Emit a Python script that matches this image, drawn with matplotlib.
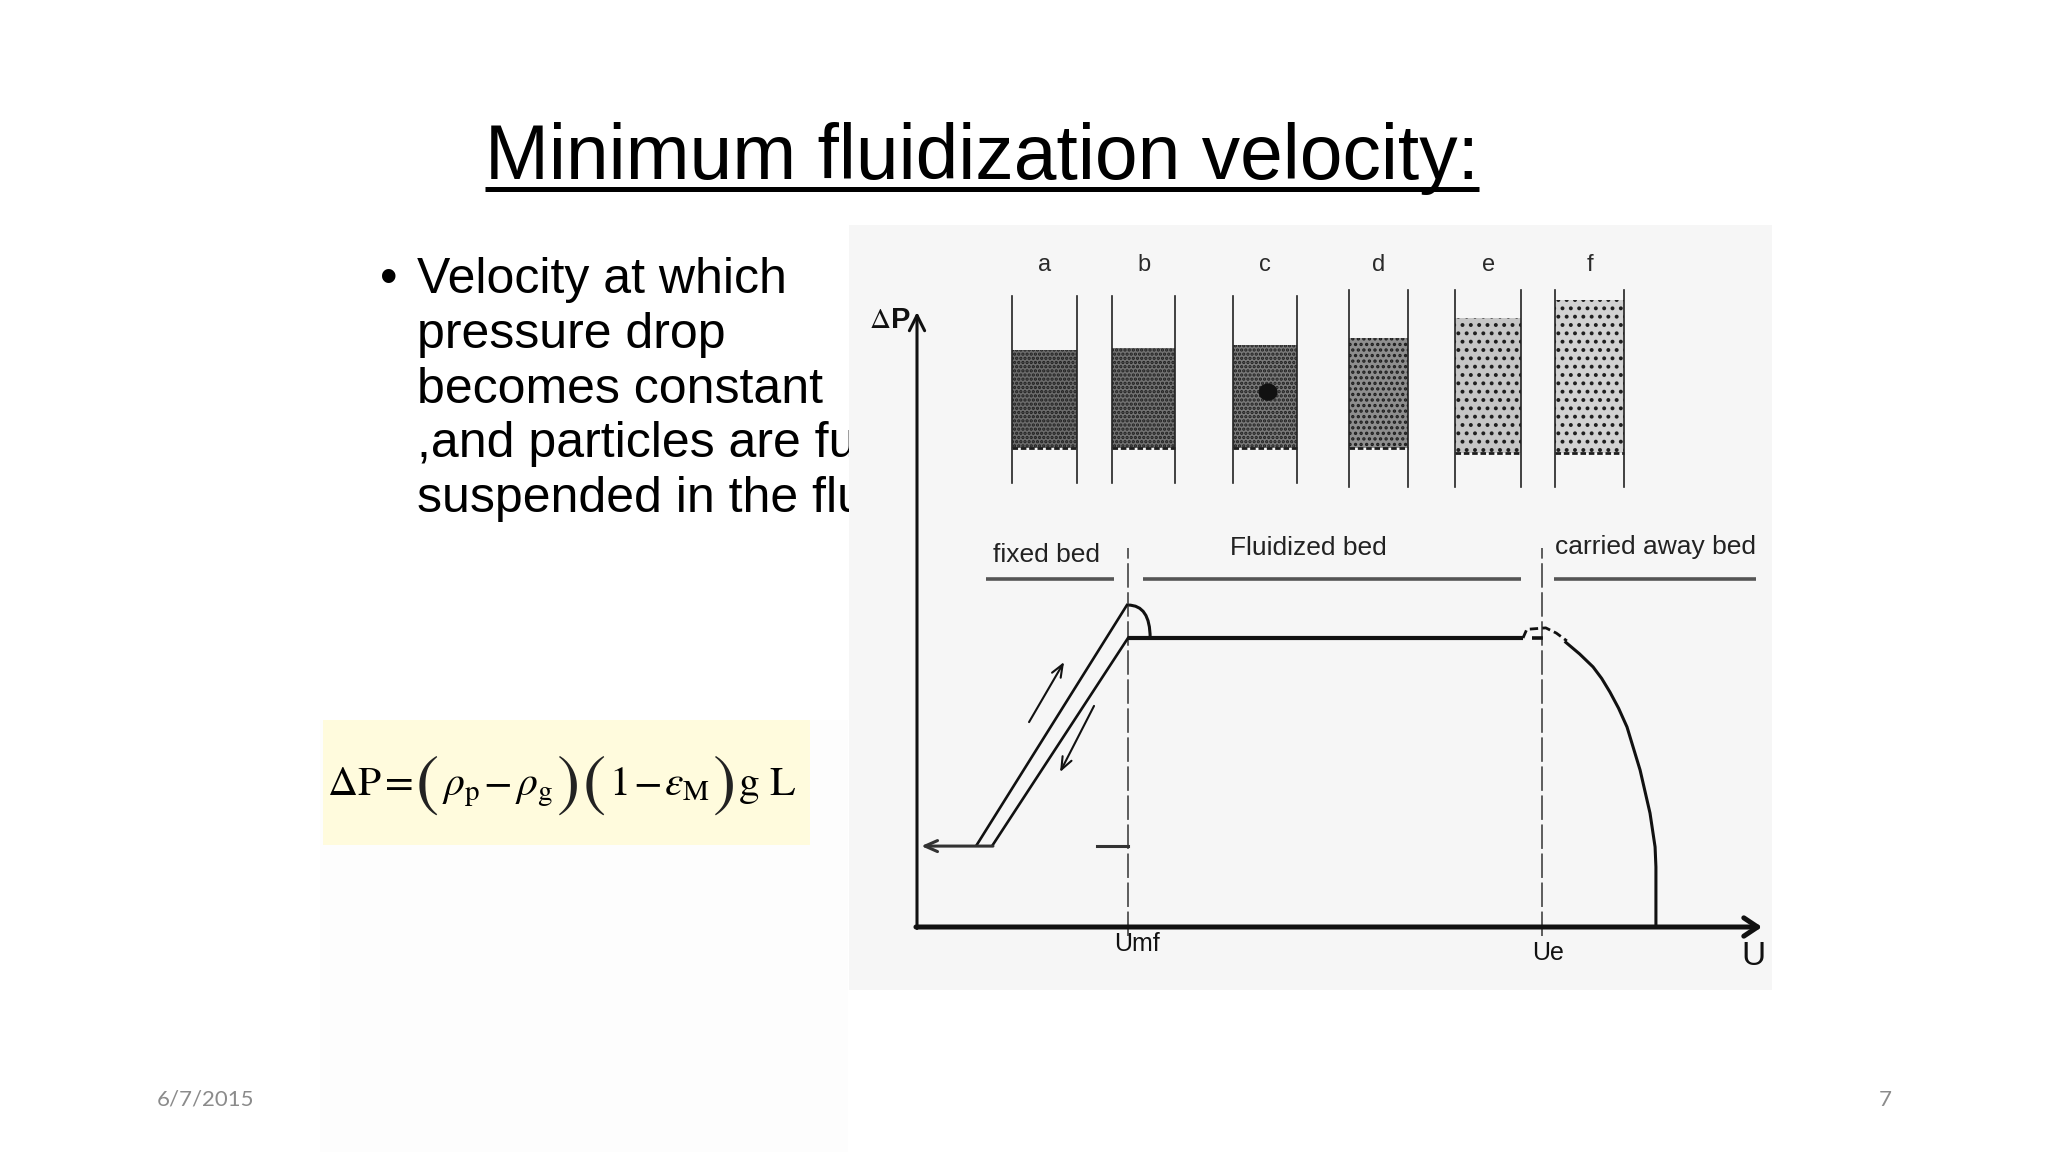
import matplotlib
matplotlib.use("Agg")
import matplotlib.pyplot as plt
from matplotlib.patches import Rectangle, Ellipse, PathPatch
from matplotlib.path import Path

plt.rcParams['mathtext.fontset'] = 'stix'
plt.rcParams['hatch.linewidth'] = 1.6

# ---------------- data ----------------
title = "Minimum fluidization velocity:"
bullet_lines = ["Velocity at which", "pressure drop", "becomes constant",
                ",and particles are fully", "suspended in the fluid."]
# formula pieces: (text, is_big_paren)
formula_pieces = [(r"$\mathrm{\Delta P}$", False), ("=", False), ("(", True),
                  (r"$\rho_{\mathrm{p}}$", False), ("\u2212", False), (r"$\rho_{\mathrm{g}}$", False),
                  (")", True), ("(", True), ("1", False), ("\u2212", False),
                  (r"$\varepsilon_{\mathrm{M}}$", False), (")", True), ("g L", False)]
footer_date = "6/7/2015"
footer_page = "7"

U_MF = 1.0
U_E = 2.96
U_MAX = 4.005
DP_MAX = 2.128

rise_up_U = [0.284, 0.995]
rise_up_dP = [0.285, 1.114]
rise_down_U = [0.360, 1.0]
rise_down_dP = [0.285, 1.0]
hump_U = [1.0, 1.105, 1.105]
hump_dP = [1.114, 1.114, 1.0]
plateau_U = [1.0, 2.872]
plateau_dP = [1.0, 1.0]
ue_bump_U = [2.872, 2.89, 2.98, 3.03, 3.08]
ue_bump_dP = [1.0, 1.03, 1.035, 1.017, 0.99]
ue_flat_U = [2.915, 2.986]
ue_flat_dP = [1.0, 1.0]
carry_U = [3.075, 3.14, 3.204, 3.245, 3.284, 3.325, 3.365, 3.427, 3.474, 3.498, 3.502, 3.502]
carry_dP = [0.985, 0.945, 0.900, 0.860, 0.813, 0.757, 0.692, 0.543, 0.394, 0.277, 0.208, 0.0]

back_arrow_U = [0.360, 0.02]
back_dP = 0.28
dash_mf_U = [0.853, 1.0]
up_arrow_U = [0.531, 0.697]
up_arrow_dP = [0.709, 0.917]
down_arrow_U = [0.839, 0.678]
down_arrow_dP = [0.765, 0.536]

region_labels = ["fixed bed", "Fluidized bed", "carried away bed"]
region_label_U = [0.616, 1.853, 3.498]
region_label_dP = [1.263, 1.287, 1.290]
region_line_U0 = [0.327, 1.071, 3.019]
region_line_U1 = [0.934, 2.863, 3.976]
region_line_dP = 1.204
guide_top_dP = 1.311

tube_labels = ['a', 'b', 'c', 'd', 'e', 'f']
tube_left = [0.450, 0.924, 1.498, 2.047, 2.550, 3.024]
tube_right = [0.758, 1.223, 1.801, 2.327, 2.863, 3.351]
tube_top = [2.183, 2.183, 2.183, 2.204, 2.204, 2.204]
tube_bottom = [1.536, 1.536, 1.536, 1.522, 1.522, 1.522]
bed_top = [1.997, 2.003, 2.014, 2.038, 2.107, 2.170]
bed_bottom = [1.657, 1.657, 1.657, 1.657, 1.640, 1.640]
tube_label_dP = 2.27
bubble_U, bubble_dP = 1.664, 1.851

# ---------------- styles ----------------
bed_face = ['#6c6c6c', '#727272', '#7a7a7a', '#8e8e8e', '#c6c6c6', '#d2d2d2']
bed_hatch = ['....', '....', '....', '...', '..', '..']
INK = '#111111'
NARROW = ['Liberation Sans Narrow', 'Liberation Sans', 'DejaVu Sans']
SANS = ['Liberation Sans', 'DejaVu Sans']

fig = plt.figure(figsize=(20.48, 11.52), dpi=100)
fig.patch.set_facecolor('white')

bg = fig.add_axes([0, 0, 1, 1])
bg.set_xlim(0, 2048)
bg.set_ylim(1152, 0)
bg.axis('off')
bg.set_zorder(0)

# faint left panel and formula box
bg.add_patch(Rectangle((320, 720), 528, 432, facecolor='#fdfdfd', edgecolor='none', zorder=0))
bg.add_patch(Rectangle((323, 720), 487, 125, facecolor='#fffbdd', edgecolor='none', zorder=1))

renderer = fig.canvas.get_renderer()


def layout_formula(scale):
    items = []
    x = 327.0
    for s, big in formula_pieces:
        if big:
            tx = bg.text(x, 786, s, fontsize=50 * scale, family='STIXGeneral', va='center',
                         ha='left', color='#222222', zorder=2)
        else:
            tx = bg.text(x, 795, s, fontsize=30 * scale, family='STIXGeneral', va='baseline',
                         ha='left', color='black', zorder=2)
        e = tx.get_window_extent(renderer)
        items.append(tx)
        x = e.x1 + 3
    return items, x


items, end = layout_formula(1.0)
if end > 806:
    sc = (806 - 327) / (end - 327)
    for it in items:
        it.remove()
    items, end = layout_formula(sc)

# title
t = bg.text(982, 179, title, fontsize=55.3, family=SANS, ha='center', va='baseline', color='black')
fig.canvas.draw()
bb = t.get_window_extent()
bg.plot([bb.x0, bb.x1], [189, 189], color='black', lw=3.6, solid_capstyle='butt')

# bullet text
bg.text(380, 293, "\u2022", fontsize=36, family=SANS, va='baseline')
for i, line in enumerate(bullet_lines):
    bg.text(417, 293 + i * 54.8, line, fontsize=36, family=SANS, va='baseline', ha='left',
            color='black')

# footer
bg.text(157, 1100, footer_date, fontsize=16, family=['Lato', 'DejaVu Sans'], color='#8b8b8b',
        va='center', ha='left')
bg.text(1885, 1100, footer_page, fontsize=16, family=['Lato', 'DejaVu Sans'], color='#8b8b8b',
        va='center', ha='center')

# ---------------- diagram ----------------
x0, y0, sx, sy = 917, 927, 211, 289
L, R, T, B = 849, 1772, 225, 990
ax = fig.add_axes([L / 2048, (1152 - B) / 1152, (R - L) / 2048, (B - T) / 1152])
ax.set_zorder(1)
ax.set_facecolor('#f6f6f6')
ax.set_xlim((L - x0) / sx, (R - x0) / sx)
ax.set_ylim((y0 - B) / sy, (y0 - T) / sy)
for s in ax.spines.values():
    s.set_visible(False)
ax.set_xticks([])
ax.set_yticks([])

# axes arrows
ax.annotate('', xy=(0, DP_MAX), xytext=(0, -0.005),
            arrowprops=dict(arrowstyle='->,head_length=0.5,head_width=0.25', lw=2.2,
                            color=INK, shrinkA=0, shrinkB=0, mutation_scale=22))
ax.annotate('', xy=(U_MAX, 0), xytext=(-0.005, 0),
            arrowprops=dict(arrowstyle='->,head_length=0.45,head_width=0.3', lw=3.6,
                            color=INK, shrinkA=0, shrinkB=0, mutation_scale=22))
ax.text(-0.13, 2.102, r"$\Delta$P", fontsize=21, family=NARROW, ha='center', va='center',
        color=INK, fontweight='bold')
ax.text(U_MF + 0.043, -0.017, "Umf", fontsize=18, family=NARROW, ha='center', va='top', color=INK)
ax.text(U_E + 0.03, -0.05, "Ue", fontsize=18, family=NARROW, ha='center', va='top', color=INK)
ax.text(3.962, -0.05, "U", fontsize=24, family=NARROW, ha='center', va='top', color=INK)

# guide dashed verticals
for u in (U_MF, U_E):
    ax.plot([u, u], [-0.03, guide_top_dP], color='#333333', lw=1.1, ls=(0, (16, 3)))

# region labels and lines
for lab, u, d in zip(region_labels, region_label_U, region_label_dP):
    ax.text(u, d, lab, fontsize=19, family=NARROW, ha='center', va='baseline', color='#222222')
for a0, a1 in zip(region_line_U0, region_line_U1):
    ax.plot([a0, a1], [region_line_dP, region_line_dP], color='#555555', lw=2.6,
            solid_capstyle='butt')

# pressure-drop curve
ax.plot(rise_up_U, rise_up_dP, color=INK, lw=1.9)
ax.plot(rise_down_U, rise_down_dP, color=INK, lw=1.9)
hump = Path(list(zip(hump_U, hump_dP)), [Path.MOVETO, Path.CURVE3, Path.CURVE3])
ax.add_patch(PathPatch(hump, facecolor='none', edgecolor=INK, lw=2.2))
ax.plot(plateau_U, plateau_dP, color=INK, lw=3.0, solid_capstyle='butt')
ax.plot(ue_bump_U, ue_bump_dP, color=INK, lw=2.0, ls=(0, (3, 1.5)))
ax.plot(ue_flat_U, ue_flat_dP, color=INK, lw=2.6, ls=(0, (3, 1.5)))
ax.plot(carry_U, carry_dP, color=INK, lw=2.2, solid_joinstyle='round')

# hysteresis helpers
ax.annotate('', xy=(back_arrow_U[1], back_dP), xytext=(back_arrow_U[0], back_dP),
            arrowprops=dict(arrowstyle='->,head_length=0.5,head_width=0.22', lw=2.2,
                            color='#333333', shrinkA=0, shrinkB=0, mutation_scale=18))
ax.plot(dash_mf_U, [back_dP, back_dP], color='#333333', lw=2.2)
ax.annotate('', xy=(up_arrow_U[1], up_arrow_dP[1]), xytext=(up_arrow_U[0], up_arrow_dP[0]),
            arrowprops=dict(arrowstyle='->,head_length=0.5,head_width=0.2', lw=1.5,
                            color=INK, shrinkA=0, shrinkB=0, mutation_scale=18))
ax.annotate('', xy=(down_arrow_U[1], down_arrow_dP[1]), xytext=(down_arrow_U[0], down_arrow_dP[0]),
            arrowprops=dict(arrowstyle='->,head_length=0.5,head_width=0.2', lw=1.5,
                            color=INK, shrinkA=0, shrinkB=0, mutation_scale=18))

# bed columns
for i, lab in enumerate(tube_labels):
    l, r = tube_left[i], tube_right[i]
    ax.add_patch(Rectangle((l, bed_bottom[i]), r - l, bed_top[i] - bed_bottom[i],
                           facecolor=bed_face[i], edgecolor='#1e1e1e', lw=0,
                           hatch=bed_hatch[i], zorder=2))
    ax.plot([l, r], [bed_bottom[i], bed_bottom[i]], color='#1e1e1e', lw=2.0,
            ls=(0, (2, 1)), zorder=3)
    for u in (l, r):
        ax.plot([u, u], [tube_bottom[i], tube_top[i]], color='#222222', lw=1.2, zorder=3)
    ax.text((l + r) / 2, tube_label_dP, lab, fontsize=17, family=NARROW, ha='center',
            va='baseline', color='#2a2a2a')
ax.add_patch(Ellipse((bubble_U, bubble_dP), 0.09, 0.06, facecolor='#111111',
                     edgecolor='none', zorder=4))

fig.savefig('out.png', dpi=100, facecolor='white')
